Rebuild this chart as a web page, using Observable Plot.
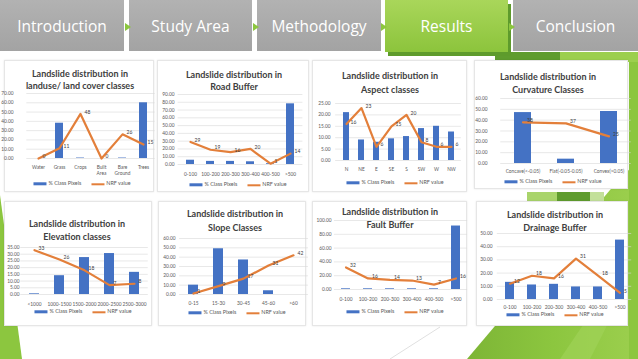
<!DOCTYPE html>
<html><head><meta charset="utf-8">
<script src="https://cdn.jsdelivr.net/npm/d3@7"></script>
<script src="https://cdn.jsdelivr.net/npm/@observablehq/plot@0.6"></script>
<style>
html,body{margin:0;padding:0;background:#fff;}
#slide{position:relative;width:638px;height:359px;overflow:hidden;background:#fff;font-family:Lato,"Open Sans",sans-serif;}
.card{position:absolute;background:#fff;border:1px solid #e6e6e6;box-shadow:0 0 2px rgba(0,0,0,0.10);}
.ttl{position:absolute;font-weight:bold;color:#404040;font-size:9px;white-space:nowrap;transform:translate(-50%,-50%);line-height:1;}
.leg{position:absolute;transform:translate(-50%,-50%);font-size:5.4px;color:#595959;white-space:nowrap;display:flex;align-items:center;line-height:1;}
.sw{display:inline-block;width:13px;height:3px;background:#4472c4;margin-right:2px;}
.ln{display:inline-block;width:13px;height:1.6px;background:#e37f3a;margin-right:2px;margin-left:10px;}
.nav{position:absolute;top:0;height:51px;background:linear-gradient(#b2b2b2,#a3a3a3);color:#fff;font-family:"Open Sans",sans-serif;font-size:15.5px;display:flex;align-items:center;justify-content:center;}
.nav.on{background:linear-gradient(#a9d65a,#8cc43c);height:52px;box-shadow:3px 4px 0 #5e9b2c;}
.arr{position:absolute;top:23px;width:0;height:0;border-top:4px solid transparent;border-bottom:4px solid transparent;border-left:6px solid #8cc63f;}
svg{overflow:visible;}
</style></head>
<body><div id="slide"></div>
<script>
// ---------- data ----------
const navLabels = ["Introduction","Study Area","Methodology","Results","Conclusion"];
const titles = [
  ["Landslide distribution in","landuse/ land cover classes"],
  ["Landslide distribution in","Road Buffer"],
  ["Landslide distribution in","Aspect classes"],
  ["Landslide distribution in","Curvature Classes"],
  ["Landslide distribution in","Elevation classes"],
  ["Landslide distribution in","Slope Classes"],
  ["Landslide distribution in","Fault Buffer"],
  ["Landslide distribution in","Drainage Buffer"]
];
const legendLabels = ["% Class Pixels","NRF value"];

const landuseCats = ["Water","Grass","Crops","Built\nArea","Bare\nGround","Trees"];
const landusePct  = [0, 38, 0.5, 0, 0.5, 60];
const landuseNrf  = [0, 11, 48, 0, 26, 15];

const roadCats = ["0-100","100-200","200-300","300-400","400-500",">500"];
const roadPct  = [5.5, 4, 4, 3.5, 1, 78];
const roadNrf  = [29, 19, 16, 20, 1, 14];

const aspectCats = ["N","NE","E","SE","S","SW","W","NW"];
const aspectPct  = [21, 9, 8, 9.5, 10.5, 14, 15, 12.5];
const aspectNrf  = [16, 23, 6, 15, 20, 8, 6, 6];

const curvCats = ["Concave(<-0.05)","Flat(-0.05-0.05)","Convex(>0.05)"];
const curvPct  = [47, 4, 48];
const curvNrf  = [38, 37, 25];

const elevCats = ["<1000","1000-1500","1500-2000","2000-2500","2500-3000"];
const elevPct  = [0.5, 14, 27.5, 30.5, 16.5];
const elevNrf  = [33, 26, 18, 7, 8];

const slopeCats = ["0-15","15-30","30-45","45-60",">60"];
const slopePct  = [10, 49, 37, 4, 0];
const slopeNrf  = [1, 9, 17, 31, 42];

const faultCats = ["0-100","100-200","200-300","300-400","400-500",">500"];
const faultPct  = [1, 1, 1, 1, 1, 92];
const faultNrf  = [32, 16, 14, 13, 7, 16];

const drainCats = ["0-100","100-200","200-300","300-400","400-500",">500"];
const drainPct  = [13, 11, 11.5, 9.5, 9.5, 45];
const drainNrf  = [12, 18, 16, 31, 18, 5];

const yMaxes = [70, 90, 25, 60, 35, 60, 100, 50];
const ySteps = [10, 10, 5, 10, 5, 10, 20, 10];

// ---------- layout ----------
const slide = document.getElementById("slide");

// background decorations
const deco = d3.select(slide).append("svg").attr("width",638).attr("height",359)
  .style("position","absolute").style("left","0").style("top","0");
const g = deco.append("defs").append("linearGradient").attr("id","gg").attr("x1","0").attr("x2","1").attr("y1","0").attr("y2","0");
g.append("stop").attr("offset","0").attr("stop-color","#7db536");
g.append("stop").attr("offset","0.5").attr("stop-color","#8cc63f");
g.append("stop").attr("offset","1").attr("stop-color","#9ccf4e");
deco.append("polygon").attr("points","0,195 22,359 0,359").attr("fill","#8cc63f");
deco.append("polygon").attr("points","467,359 610,190 638,160 638,359").attr("fill","url(#gg)");
deco.append("polygon").attr("points","560,359 600,300 620,300 590,359").attr("fill","#a2d35a").attr("opacity",0.6);
deco.append("rect").attr("x",629).attr("y",55).attr("width",9).attr("height",304).attr("fill","#8cc63f");
deco.append("rect").attr("x",527).attr("y",192).attr("width",32).attr("height",9).attr("fill","#a9d46b");
deco.append("rect").attr("x",557).attr("y",192).attr("width",33).attr("height",9).attr("fill","#5f9c2e");
deco.append("rect").attr("x",590).attr("y",192).attr("width",14).attr("height",9).attr("fill","#c3e09a");
deco.append("rect").attr("x",495).attr("y",52).attr("width",65).attr("height",10).attr("fill","#5f9c2e");
deco.append("rect").attr("x",560).attr("y",52).attr("width",78).attr("height",10).attr("fill","#9ccf4e");
deco.append("line").attr("x1",390).attr("y1",359).attr("x2",440).attr("y2",327).attr("stroke","#e0e0e0").attr("stroke-width",1);

// nav
const navBoxes = [[0,124],[129,252],[257,381],[385,508],[513,638]];
navLabels.forEach((t,i)=>{
  const d = document.createElement("div");
  d.className = "nav" + (t==="Results" ? " on" : "");
  d.style.left = navBoxes[i][0]+"px"; d.style.width = (navBoxes[i][1]-navBoxes[i][0])+"px";
  d.textContent = t; slide.appendChild(d);
});
[125,253,381,509].forEach(x=>{
  const a = document.createElement("div"); a.className="arr"; a.style.left = x+"px"; slide.appendChild(a);
});

const panels = [
  {cats:landuseCats,pct:landusePct,nrf:landuseNrf,card:{x:4,y:60,w:150,h:132},tcx:80,ty:[73,85],yTop:93,yZero:158,xFirst:37,xLast:144,labR:13,xlY:166,legY:184,legCx:82},
  {cats:roadCats,pct:roadPct,nrf:roadNrf,card:{x:157,y:60,w:152,h:132},tcx:234,ty:[74,86],yTop:94,yZero:164,xFirst:188,xLast:292,labR:174,xlY:173,legY:185,legCx:238},
  {cats:aspectCats,pct:aspectPct,nrf:aspectNrf,card:{x:312,y:60,w:155,h:132},tcx:390,ty:[75,89],yTop:103,yZero:160,xFirst:343,xLast:453,labR:330,xlY:168,legY:183,legCx:395},
  {cats:curvCats,pct:curvPct,nrf:curvNrf,card:{x:474,y:60,w:154,h:129},tcx:548,ty:[76,89],yTop:98,yZero:163,xFirst:522,xLast:609,labR:487,xlY:170,legY:182,legCx:553},
  {cats:elevCats,pct:elevPct,nrf:elevNrf,card:{x:4,y:201,w:148,h:125},tcx:77,ty:[223,236],yTop:247,yZero:294,xFirst:33,xLast:135,labR:19,xlY:303,legY:312,legCx:83},
  {cats:slopeCats,pct:slopePct,nrf:slopeNrf,card:{x:158,y:201,w:148,h:125},tcx:235,ty:[213,227],yTop:238,yZero:294,xFirst:192,xLast:295,labR:175,xlY:302,legY:313,legCx:237},
  {cats:faultCats,pct:faultPct,nrf:faultNrf,card:{x:312,y:201,w:155,h:125},tcx:390,ty:[211,224],yTop:220,yZero:289,xFirst:345,xLast:456,labR:331,xlY:298,legY:312,legCx:395},
  {cats:drainCats,pct:drainPct,nrf:drainNrf,card:{x:476,y:201,w:152,h:125},tcx:555,ty:[214,227],yTop:233,yZero:299,xFirst:508,xLast:620,labR:492,xlY:306,legY:315,legCx:555}
];

panels.forEach((p,k)=>{
  const c = p.card;
  const cd = document.createElement("div"); cd.className="card";
  Object.assign(cd.style,{left:c.x+"px",top:c.y+"px",width:(c.w-2)+"px",height:(c.h-2)+"px"});
  slide.appendChild(cd);
  titles[k].forEach((t,j)=>{
    const d=document.createElement("div"); d.className="ttl"; d.textContent=t;
    d.style.left=p.tcx+"px"; d.style.top=p.ty[j]+"px"; slide.appendChild(d);
  });
  const n = p.cats.length, step=(p.xLast-p.xFirst)/(n-1);
  const x0=p.xFirst-step/2, x1=p.xLast+step/2;
  const data = p.cats.map((cat,i)=>({cat,pct:p.pct[i],nrf:p.nrf[i]}));
  const yMax=yMaxes[k], yStep=ySteps[k];
  const ticks=d3.range(0,yMax+yStep/2,yStep);
  const svg = Plot.plot({
    width:c.w, height:c.h,
    marginLeft:x0-c.x, marginRight:c.x+c.w-x1, marginTop:p.yTop-c.y, marginBottom:c.y+c.h-p.yZero,
    style:{background:"transparent",overflow:"visible",fontFamily:"Lato, sans-serif"},
    x:{axis:null,domain:p.cats,paddingInner:0.6,paddingOuter:0.3},
    y:{axis:null,domain:[0,yMax]},
    marks:[
      Plot.ruleY(ticks,{y:d=>d,stroke:"#d9d9d9",strokeWidth:0.6}),
      Plot.text(ticks,{y:d=>d,frameAnchor:"left",text:d=>d.toFixed(2),textAnchor:"end",dx:p.labR-x0,fontSize:4.8,fill:"#595959"}),
      Plot.barY(data,{x:"cat",y:"pct",fill:"#4472c4"}),
      Plot.line(data,{x:"cat",y:"nrf",stroke:"#e37f3a",strokeWidth:2.2,strokeLinejoin:"round"}),
      Plot.text(data,{x:"cat",y:"nrf",text:d=>String(d.nrf),dx:4,dy:-2,textAnchor:"start",fontSize:5,fill:"#404040"}),
      Plot.text(data,{x:"cat",frameAnchor:"bottom",text:"cat",lineAnchor:"top",dy:p.xlY-p.yZero-2.5,fontSize:4.8,fill:"#595959",lineHeight:1.35})
    ]
  });
  svg.style.position="absolute"; svg.style.left=c.x+"px"; svg.style.top=c.y+"px";
  slide.appendChild(svg);
  const lg=document.createElement("div"); lg.className="leg";
  lg.innerHTML=`<span class="sw"></span>${legendLabels[0]}<span class="ln"></span>${legendLabels[1]}`;
  lg.style.left=p.legCx+"px"; lg.style.top=p.legY+"px"; slide.appendChild(lg);
});
</script></body></html>
